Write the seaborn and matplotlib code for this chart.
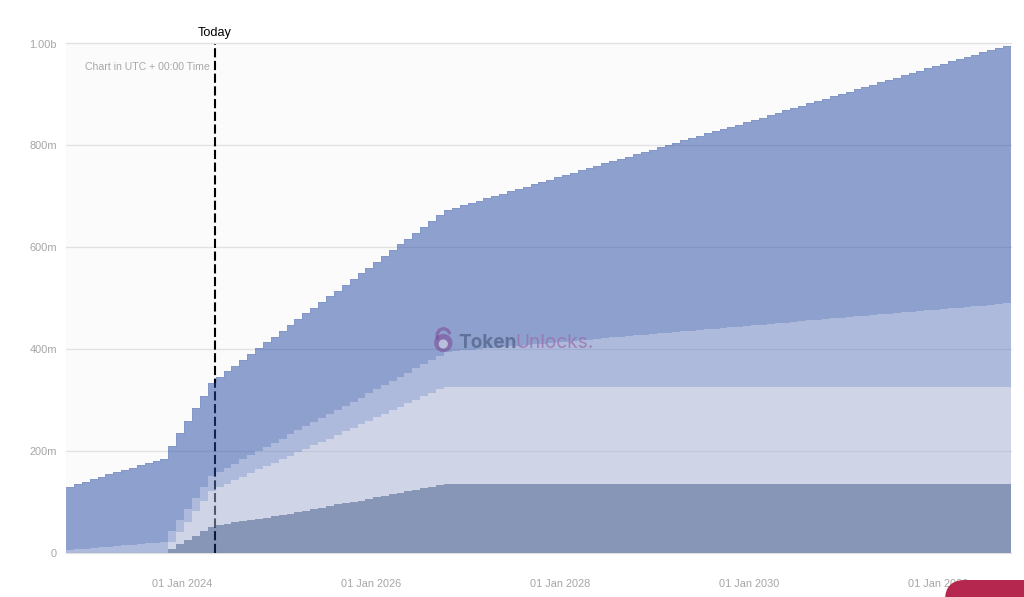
import numpy as np
import pandas as pd
import matplotlib
matplotlib.use("Agg")
import matplotlib.pyplot as plt
import matplotlib.dates as mdates
from matplotlib.patches import Circle, FancyBboxPatch
import seaborn as sns

top_boundary = [
    130.2, 135.4, 140.0, 144.6, 149.8, 154.4, 158.3, 162.9, 166.8, 172.0, 176.0, 180.6, 185.0,
    210.0, 235.0, 259.7, 284.0, 308.8, 333.4, 344.8, 356.5, 367.7, 378.8, 390.6, 401.7, 413.4,
    424.6, 435.7, 447.5, 458.6, 470.4, 481.5, 492.6, 503.8, 515.2, 526.0, 537.0, 548.9, 560.0,
    571.8, 582.9, 594.7, 605.8, 616.9, 628.7, 639.8, 651.0, 662.8,
    673.2, 677.7, 682.4, 687.0, 691.5, 696.2, 700.7, 705.2, 709.9, 714.4, 719.0, 723.7, 728.2,
    732.7, 737.4, 741.9, 746.4, 751.1, 755.6, 760.1, 764.8, 768.8, 773.3, 777.8, 782.5, 787.1,
    791.6, 796.3, 800.8, 805.3, 810.0, 814.5, 819.0, 823.7, 828.3, 832.8,
    836.0, 840.0, 845.3, 849.9, 854.4, 859.0, 864.3, 868.8, 873.4, 878.0, 882.6, 887.1, 891.7,
    896.3, 900.9, 905.5, 910.0, 914.6, 919.2, 923.8, 928.4, 932.9, 937.5, 942.1, 946.7, 951.3,
    955.8, 960.4, 965.0, 969.6, 973.5, 978.1, 982.7, 987.2, 991.8, 995.7,
]
mid_boundary = [
    5.5, 6.9, 8.2, 9.5, 10.9, 12.3, 13.6, 15.0, 16.3, 17.7, 19.0, 20.4, 21.8,
    43.2, 64.8, 86.4, 107.9, 129.5, 151.1, 159.0, 166.8, 175.3, 183.9, 191.7, 199.6, 208.0,
    216.5, 224.3, 233.0, 240.8, 249.3, 257.1, 265.0, 273.0, 280.7, 288.5, 297.0, 304.9, 313.4,
    321.2, 329.7, 337.6, 346.1, 354.0, 362.5, 370.4, 378.8, 386.7,
    395.0, 396.5, 397.8, 399.2, 400.5, 401.8, 403.0, 404.4, 405.7, 407.0, 408.4, 409.8, 411.0,
    412.4, 413.7, 415.0, 416.4, 417.7, 419.0, 420.4, 421.8, 423.0, 424.4, 425.7, 427.0, 428.4,
    429.7, 431.0, 432.4, 433.8, 435.0, 436.4, 437.7, 439.0, 440.4, 441.7, 443.0, 444.4, 445.8,
    447.0, 448.4, 449.7, 451.0, 452.4, 453.7, 455.0, 456.4, 457.8, 459.0, 460.4, 461.7, 463.0,
    464.4, 465.7, 467.0, 468.4, 469.8, 471.0, 472.4, 473.7, 475.0, 476.4, 477.7, 479.0, 480.4,
    481.8, 483.0, 484.4, 485.7, 487.0, 488.4, 489.8,
]
lav_boundary = [0.0] * 13 + [
    22.3, 41.9, 61.5, 82.4, 102.1, 122.4, 129.5, 136.1, 143.3, 149.8, 157.0, 164.2, 170.8,
    177.3, 184.5, 191.0, 197.6, 204.1, 211.3, 217.9, 224.0, 232.0, 239.0, 245.5, 252.5, 259.5,
    266.5, 273.5, 280.5, 287.5, 294.0, 301.0, 308.0, 315.0, 321.5,
] + [325.5] * 72
dark_boundary = [0.0] * 13 + [
    7.0, 17.0, 25.5, 34.0, 42.5, 50.4, 54.3, 57.5, 60.2, 62.2, 64.8, 67.3, 69.3,
    72.0, 74.6, 77.1, 79.9, 82.4, 85.8, 88.9, 92.2, 95.5, 97.5, 100.0, 102.7, 106.0,
    109.3, 112.5, 115.2, 117.8, 121.0, 124.3, 127.0, 130.0, 132.9,
] + [135.0] * 72
y_ticks = [0, 200, 400, 600, 800, 1000]
y_labels = ["0", "200m", "400m", "600m", "800m", "1.00b"]
x_ticks = ["2024-01-01", "2026-01-01", "2028-01-01", "2030-01-01", "2032-01-01"]
x_labels = ["01 Jan 2024", "01 Jan 2026", "01 Jan 2028", "01 Jan 2030", "01 Jan 2032"]
today = "2024-05-08"

FONT = ["Liberation Sans", "DejaVu Sans"]
sns.set_style("white")
plt.rcParams["font.family"] = FONT

W, H = 1024, 597
L, R, T, B = 66, 1011, 43.5, 553
fig = plt.figure(figsize=(W / 100, H / 100), dpi=100, facecolor="white")
ax = fig.add_axes([L / W, 1 - B / H, (R - L) / W, (B - T) / H])
ax.set_facecolor("#FBFBFB")

dates = pd.date_range("2022-10-10", periods=len(top_boundary) + 1, freq=pd.DateOffset(months=1))
x_step = mdates.date2num(dates)
pad = lambda s: np.r_[s, s[-1]]
df = pd.DataFrame({
    "date": dates,
    "top": pad(top_boundary),
    "mid": pad(mid_boundary),
    "lav": pad(lav_boundary),
    "dark": pad(dark_boundary),
})

for yt in y_ticks:
    ax.axhline(yt, color="#E2E2E2", lw=1.0, zorder=1, clip_on=False)

td = mdates.date2num(pd.Timestamp(today))
ax.plot([td, td], [0, 1000], color="black", lw=1.5, dashes=(4.4, 1.7), zorder=2)

layers = [("dark", None, "#153175"), ("lav", "dark", "#A5AFD5"), ("mid", "lav", "#637BBF"), ("top", "mid", "#2349A3")]
for hi, lo, col in layers:
    base = df[lo] if lo else 0
    ax.fill_between(df["date"], base, df[hi], step="post", color=col, alpha=0.5, lw=0, zorder=3)
sns.lineplot(data=df, x="date", y="top", drawstyle="steps-post", color="#2349A3", alpha=0.12,
             lw=0.6, ax=ax, zorder=4, errorbar=None)

ax.set_xlim(x_step[0], x_step[-1])
ax.set_ylim(0, 1000)
ax.set_xlabel("")
ax.set_ylabel("")
sns.despine(ax=ax, left=True, bottom=True, top=True, right=True)
ax.set_yticks(y_ticks, y_labels)
ax.set_xticks(mdates.date2num(pd.to_datetime(x_ticks)), x_labels)
ax.tick_params(axis="y", length=0, pad=6.5, labelsize=7.9, labelcolor="#A6A6A6")
ax.tick_params(axis="x", length=5.5, width=0.8, color="#E2E2E2", pad=13, labelsize=7.9, labelcolor="#A6A6A6")

ax.text(td, 1008, "Today", ha="center", va="bottom", fontsize=9.2, color="black", zorder=6, clip_on=False)
px = lambda x, y: (x / W, 1 - y / H)
fig.text(*px(85, 66.5), "Chart in UTC + 00:00 Time", ha="left", va="center", fontsize=7.55, color="#A8A8A8")

# watermark
lockc = "#7A3E8E"
ov = fig.add_axes([0, 0, 1, 1], facecolor="none")
ov.set_xlim(0, W)
ov.set_ylim(H, 0)
ov.axis("off")
ov.add_patch(Circle((443.3, 343), 9.2, fc=lockc, ec="none", alpha=0.5))
ov.plot([437.2, 437.2, 439.5, 443.5, 447.5, 449.5], [338, 333.5, 330, 328.5, 330, 333], color=lockc, lw=2.4, alpha=0.5,
        solid_capstyle="round")
ov.add_patch(Circle((443.3, 344), 4.6, fc="#BEC8E2", ec="none", alpha=0.9))
ov.text(458.5, 343, "Token", ha="left", va="center", fontsize=13.7, fontweight="bold", family=["Inter", "DejaVu Sans"],
        color="#5A6A90", alpha=0.85)
ov.text(515, 343, "Unlocks.", ha="left", va="center", fontsize=13.7, family=["Inter", "DejaVu Sans"],
        color="#9A6AA8", alpha=0.7)

# corner button
ov.add_patch(FancyBboxPatch((945, 580), 140, 60, boxstyle="round,pad=0,rounding_size=20", fc="#B5274F", ec="none", clip_on=True))

fig.savefig("out.png", dpi=100)
